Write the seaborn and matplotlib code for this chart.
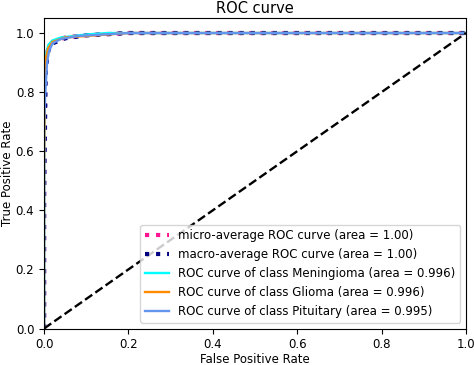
import numpy as np
import pandas as pd
import matplotlib
matplotlib.use("Agg")
import matplotlib.pyplot as plt
import seaborn as sns

# ROC points (rough estimates)
fpr_micro = [0.0, 0.0, 0.003, 0.01, 0.02, 0.05, 0.10, 0.20, 1.0]
tpr_micro = [0.0, 0.60, 0.90, 0.95, 0.97, 0.985, 0.993, 1.0, 1.0]

fpr_macro = [0.0, 0.0, 0.004, 0.01, 0.02, 0.05, 0.10, 0.20, 1.0]
tpr_macro = [0.0, 0.45, 0.88, 0.94, 0.965, 0.982, 0.992, 1.0, 1.0]

fpr_menin = [0.0, 0.0, 0.002, 0.005, 0.01, 0.02, 0.04, 0.07, 0.10, 0.15, 1.0]
tpr_menin = [0.0, 0.60, 0.88, 0.93, 0.96, 0.975, 0.985, 0.99, 0.995, 1.0, 1.0]

fpr_glioma = [0.0, 0.0, 0.002, 0.005, 0.01, 0.02, 0.05, 0.10, 0.20, 1.0]
tpr_glioma = [0.0, 0.55, 0.85, 0.92, 0.95, 0.97, 0.985, 0.99, 1.0, 1.0]

fpr_pit = [0.0, 0.0, 0.003, 0.007, 0.012, 0.02, 0.04, 0.08, 0.20, 1.0]
tpr_pit = [0.0, 0.70, 0.80, 0.90, 0.94, 0.965, 0.98, 0.99, 1.0, 1.0]

labels = [
    "micro-average ROC curve (area = 1.00)",
    "macro-average ROC curve (area = 1.00)",
    "ROC curve of class Meningioma (area = 0.996)",
    "ROC curve of class Glioma (area = 0.996)",
    "ROC curve of class Pituitary (area = 0.995)",
]

plt.rcParams["font.size"] = 8.5

fig = plt.figure(figsize=(4.74, 3.65), dpi=100)
ax = fig.add_axes([0.093, 0.100, 0.890, 0.850])

def draw(fpr, tpr, color, lw, ls, label):
    df = pd.DataFrame({"fpr": fpr, "tpr": tpr})
    sns.lineplot(data=df, x="fpr", y="tpr", ax=ax, sort=False, estimator=None,
                 color=color, linewidth=lw, linestyle=ls, label=label)

draw(fpr_micro, tpr_micro, "deeppink", 3, ":", labels[0])
draw(fpr_macro, tpr_macro, "navy", 3, ":", labels[1])
draw(fpr_menin, tpr_menin, "aqua", 1.7, "-", labels[2])
draw(fpr_glioma, tpr_glioma, "darkorange", 1.7, "-", labels[3])
draw(fpr_pit, tpr_pit, "cornflowerblue", 1.7, "-", labels[4])

# chance line
ax.plot([0, 1], [0, 1], "k--", lw=1.7)

ax.set_xlim(0.0, 1.0)
ax.set_ylim(0.0, 1.05)
ax.set_xlabel("False Positive Rate", labelpad=1)
ax.set_ylabel("True Positive Rate", labelpad=1.5)
ax.set_title("ROC curve", fontsize=10.5, pad=4)
ax.legend(loc="lower right")

fig.savefig("out.png", dpi=100)
